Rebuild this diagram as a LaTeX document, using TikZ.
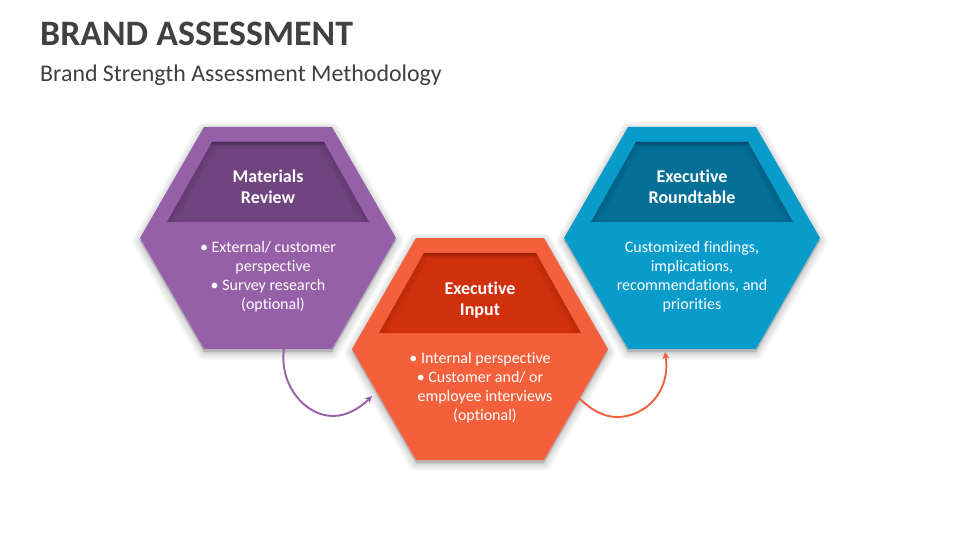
\documentclass[tikz,border=0pt]{standalone}
\usepackage{fontspec}
\setmainfont[Ligatures={NoCommon}]{Carlito}
\definecolor{purpleA}{HTML}{9660A8}
\definecolor{purpleB}{HTML}{70447F}
\definecolor{orangeA}{HTML}{F4603C}
\definecolor{orangeB}{HTML}{D1300D}
\definecolor{blueA}{HTML}{099CCB}
\definecolor{blueB}{HTML}{066F96}
\definecolor{inkgrey}{HTML}{404040}
\usetikzlibrary{arrows.meta}
\tikzset{
  hexframe/.style={minimum width=256pt,minimum height=222pt,inner sep=0pt,outer sep=0pt},
  headtext/.style={text=white,font=\fontsize{18}{21}\selectfont\bfseries,align=center,inner sep=0pt,text height=35pt,text depth=7pt},
  bodytext/.style={text=white,font=\fontsize{16}{19}\selectfont,align=center,inner sep=0pt,text height=50pt,text depth=12pt},
  linkarrow/.style={line width=1.9pt,-{Stealth[length=7pt,width=7pt]}},
  softshadow/.style={draw=black,fill=black,opacity=0.02,line join=round}
}
\newcommand{\hexpath}{(-128,0) -- (-64,-111) -- (64,-111) -- (128,0) -- (64,111) -- (-64,111) -- cycle}
\newcommand{\trappath}{(-56,-96) -- (56,-96) -- (101,-16) -- (-101,-16) -- cycle}
\newcommand{\hexblock}[8]{%
 \begin{scope}[shift={(#2,#3)}]
  \foreach \w in {2,4,...,16}{\path[softshadow,line width=\w pt,shift={(0,3)}] \hexpath;}
  \fill[#4] \hexpath;
  \fill[#5] \trappath;
  \begin{scope}
   \clip \trappath;
   \foreach \w in {3,6,...,15}{\draw[black,opacity=0.02,line width=\w pt] (-101,-16) -- (-56,-96) -- (56,-96) -- (101,-16);}
   \foreach \w in {2,4,6,8}{\draw[black,opacity=0.05,line width=\w pt] (-70,-96) -- (70,-96);}
  \end{scope}
  \node[hexframe] (#1) at (0,0) {};
  \node[headtext] (#1head) at (0,-48) {#6};
  \node[bodytext] (#1body) at (#7,52) {#8};
 \end{scope}}
\begin{document}
\begin{tikzpicture}[x=1pt,y=-1pt]
\path[use as bounding box,fill=white] (0,0) rectangle (960,540);
\node[anchor=base west,inner sep=0pt,text=inkgrey,font=\fontsize{35.8}{40}\selectfont\bfseries] (title) at (40,46) {BRAND ASSESSMENT};
\node[anchor=base west,inner sep=0pt,text=inkgrey,font=\fontsize{23.9}{28}\selectfont] (subtitle) at (40,81.5) {Brand Strength Assessment Methodology};
\hexblock{hexA}{268}{238}{purpleA}{purpleB}{Materials\\Review}{0}{\textbullet\ External/ customer\\\hspace*{10pt}perspective\\\textbullet\ Survey research\\\hspace*{10pt}(optional)}
\hexblock{hexC}{692}{238}{blueA}{blueB}{Executive\\Roundtable}{0}{Customized findings,\\implications,\\recommendations, and\\priorities}
\hexblock{hexB}{480}{349}{orangeA}{orangeB}{Executive\\Input}{0}{\textbullet\ Internal perspective\\\textbullet\ Customer and/ or\\\hspace*{10pt}employee interviews\\\hspace*{10pt}(optional)}
\draw[linkarrow,purpleA] ([shift={(16,0)}]hexA.south) .. controls (279,385) and (305,416) .. (333,416) .. controls (347,416) and (360,408) .. ([shift={(20,47)}]hexB.west);
\draw[linkarrow,orangeA] ([shift={(-29,49)}]hexB.east) .. controls (590,409) and (603,417) .. (617,417) .. controls (645,417) and (671,392) .. ([shift={(-27,3)}]hexC.south);
\end{tikzpicture}
\end{document}
